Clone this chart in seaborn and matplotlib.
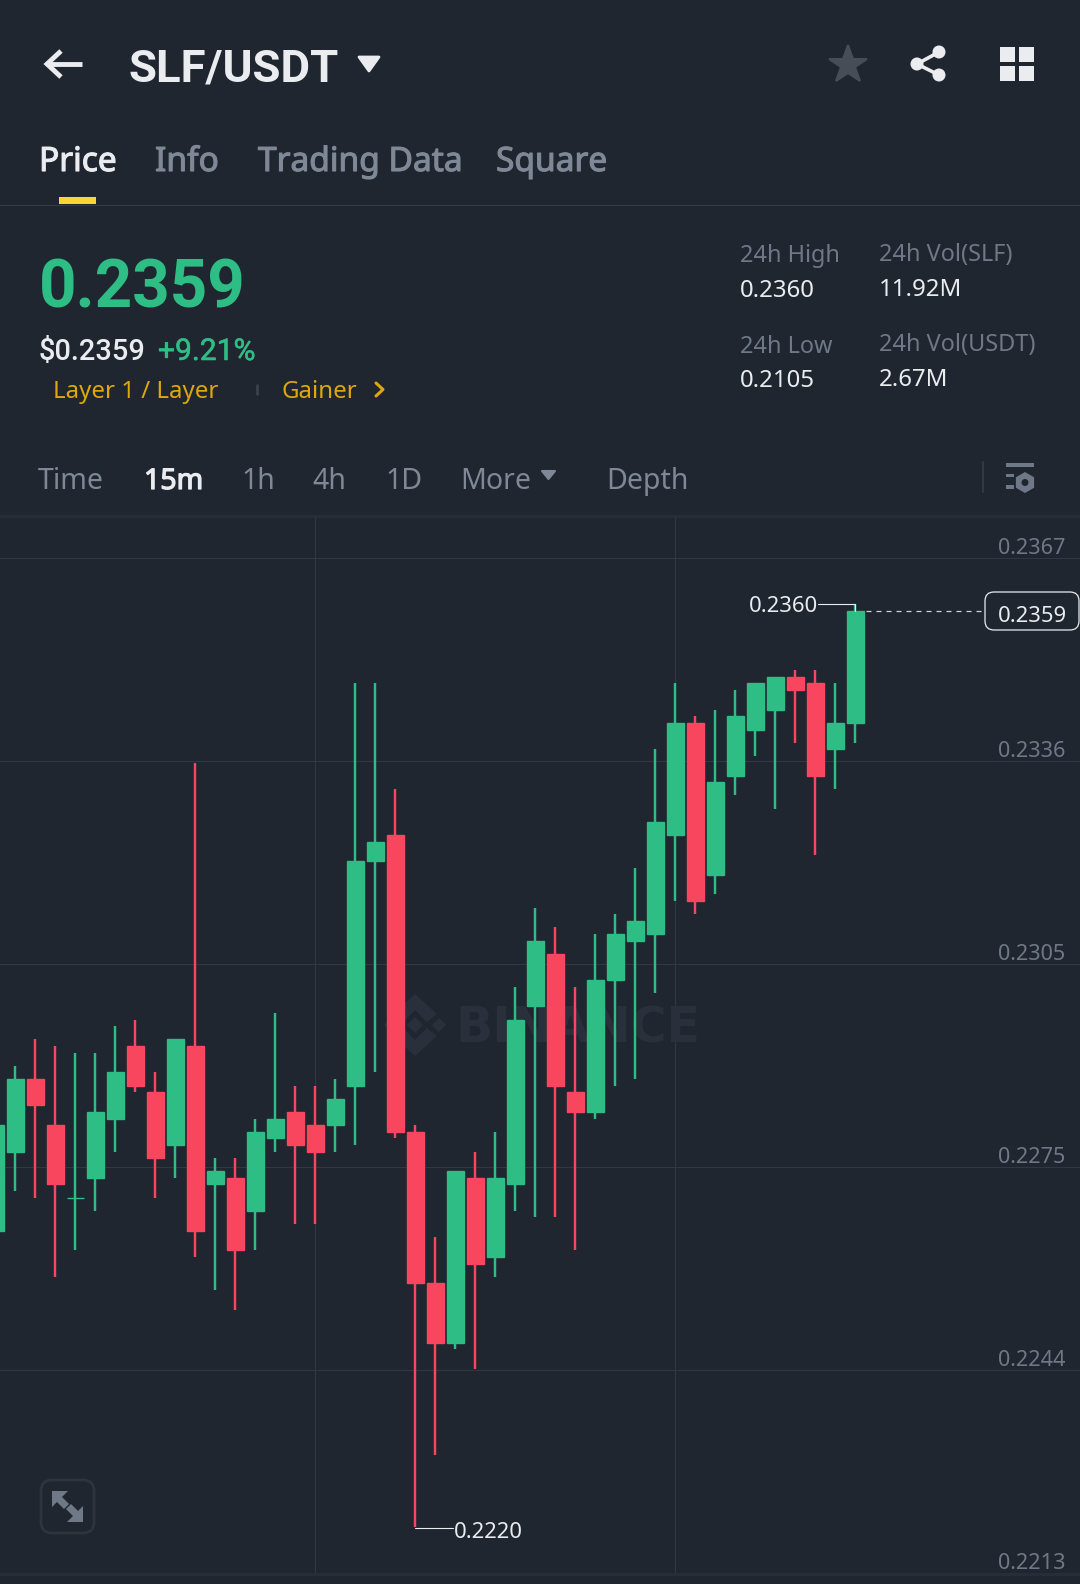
import matplotlib
matplotlib.use("Agg")
import matplotlib.pyplot as plt
from matplotlib.patches import FancyBboxPatch, Polygon, RegularPolygon, Circle, Rectangle
from matplotlib.patheffects import withStroke
from matplotlib.transforms import ScaledTranslation
import pandas as pd
import seaborn as sns

BG = "#1f2630"
GRID = "#313743"
GREEN = "#2ebd85"
RED = "#f9465f"
WHITE = "#eaecef"
GRAY = "#7f8896"
DIM = "#6f7886"
AMBER = "#dda80b"

opens = [0.2265, 0.2277, 0.2288, 0.2281, 0.2270, 0.2273, 0.2282, 0.2293, 0.2286, 0.2278, 0.2293,
         0.2272, 0.2273, 0.2268, 0.2279, 0.2283, 0.2281, 0.2281, 0.2287, 0.2321, 0.2325, 0.2280,
         0.2257, 0.2248, 0.2273, 0.2261, 0.2272, 0.2299, 0.2307, 0.2286, 0.2283, 0.2303, 0.2309,
         0.2310, 0.2325, 0.2342, 0.2319, 0.2334, 0.2341, 0.2344, 0.2349, 0.2348, 0.2338, 0.2342]
closes = [0.2281, 0.2288, 0.2284, 0.2272, 0.2270, 0.2283, 0.2289, 0.2287, 0.2276, 0.2294, 0.2265,
          0.2274, 0.2262, 0.2280, 0.2282, 0.2278, 0.2277, 0.2285, 0.2321, 0.2324, 0.2280, 0.2257,
          0.2248, 0.2274, 0.2260, 0.2273, 0.2297, 0.2309, 0.2287, 0.2283, 0.2303, 0.2310, 0.2312,
          0.2327, 0.2342, 0.2315, 0.2333, 0.2343, 0.2348, 0.2349, 0.2347, 0.2334, 0.2342, 0.2359]
highs = [0.2283, 0.2290, 0.2294, 0.2293, 0.2292, 0.2292, 0.2296, 0.2297, 0.2289, 0.2294, 0.2336,
         0.2276, 0.2276, 0.2282, 0.2298, 0.2287, 0.2287, 0.2288, 0.2348, 0.2348, 0.2332, 0.2281,
         0.2264, 0.2274, 0.2277, 0.2280, 0.2302, 0.2314, 0.2311, 0.2302, 0.2310, 0.2313, 0.2320,
         0.2338, 0.2348, 0.2343, 0.2344, 0.2347, 0.2348, 0.2349, 0.2350, 0.2350, 0.2348, 0.2360]
lows = [0.2263, 0.2271, 0.2270, 0.2258, 0.2262, 0.2268, 0.2277, 0.2286, 0.2270, 0.2273, 0.2261,
        0.2256, 0.2253, 0.2262, 0.2277, 0.2266, 0.2266, 0.2277, 0.2278, 0.2289, 0.2279, 0.2220,
        0.2231, 0.2247, 0.2244, 0.2258, 0.2268, 0.2267, 0.2267, 0.2262, 0.2282, 0.2287, 0.2288,
        0.2301, 0.2315, 0.2313, 0.2316, 0.2331, 0.2337, 0.2329, 0.2339, 0.2322, 0.2332, 0.2339]
price_ticks = [0.2367, 0.23362, 0.23054, 0.22746, 0.22438, 0.2213]
price_labels = ["0.2367", "0.2336", "0.2305", "0.2275", "0.2244", "0.2213"]
grid_candles = [16, 34]
tabs = [("Price", 39, WHITE), ("Info", 155, GRAY), ("Trading Data", 258, GRAY), ("Square", 496, GRAY)]
intervals = [("Time", 38, GRAY, 0), ("15m", 144, WHITE, 0.9), ("1h", 241, GRAY, 0),
             ("4h", 312, GRAY, 0), ("1D", 385, GRAY, 0), ("More", 460, GRAY, 0),
             ("Depth", 606, GRAY, 0)]
stats = [("24h High", "0.2360", 740, 262, 297), ("24h Vol(SLF)", "11.92M", 879, 261, 295.5),
         ("24h Low", "0.2105", 740, 353, 387), ("24h Vol(USDT)", "2.67M", 879, 351, 385.7)]

W, H = 1080, 1584
sns.set_theme(style="darkgrid", rc={
    "figure.facecolor": BG, "axes.facecolor": BG, "grid.color": GRID, "grid.linewidth": 0.8,
    "axes.edgecolor": GRID, "savefig.facecolor": BG,
})
plt.rcParams["font.family"] = ["Noto Sans", "DejaVu Sans"]

fig = plt.figure(figsize=(W / 100, H / 100), dpi=100)
TOP, BOT = 516.0, 1573.5
ax = fig.add_axes([0, (H - BOT) / H, 1, (BOT - TOP) / H])
ui = fig.add_axes([0, 0, 1, 1], zorder=5)
ui.set_xlim(0, W)
ui.set_ylim(H, 0)
ui.axis("off")
ui.patch.set_alpha(0)

df = pd.DataFrame({"i": range(len(opens)), "o": opens, "h": highs, "l": lows, "c": closes})
df["rising"] = [c > o or k == 4 for k, (c, o) in enumerate(zip(df.c, df.o))]
df["bottom"] = df[["o", "c"]].min(axis=1)
df["body"] = (df.o - df.c).abs()
for rising, colour in [(True, GREEN), (False, RED)]:
    sub = df[df.rising == rising]
    ax.vlines(sub.i, sub.l, sub.h, color=colour, lw=1.75, zorder=0.9)
    sns.barplot(data=sub, x="i", y="body", bottom=sub.bottom.values, native_scale=True, width=0.83,
                color=colour, saturation=1, errorbar=None, ax=ax, linewidth=1.0, edgecolor=colour, zorder=1)

ax.set_xlim((0 + 4.67) / 20, (W + 4.67) / 20)
y2p = lambda y: (2360 - (y - 604.3) / 6.596) / 1e4
ax.set_ylim(y2p(BOT), y2p(TOP))
ax.set_xticks(grid_candles)
ax.set_yticks(price_ticks)
ax.set_yticklabels(price_labels)
ax.set_xlabel("")
ax.set_ylabel("")
ax.yaxis.tick_right()
ax.tick_params(axis="x", labelbottom=False, length=0)
ax.tick_params(axis="y", length=0, pad=-10.5, labelsize=15.6, labelcolor=DIM, labelright=True)
shift = ScaledTranslation(0, -0.4 / 72, fig.dpi_scale_trans)
for lab in ax.get_yticklabels():
    lab.set_ha("right")
    lab.set_va("bottom")
    lab.set_transform(lab.get_transform() + shift)
ax.set_axisbelow(True)
ax.grid(True, color=GRID, lw=0.8)
for side, sp in ax.spines.items():
    sp.set_visible(side in ("top", "bottom"))
    sp.set_linewidth(2)
    sp.set_color("#282e39")


def T(x, y, s, px, color=WHITE, weight="normal", ha="left", family=None, target=None, stroke=0):
    t = (target or ui).text(x, y, s, fontsize=px * 0.72, color=color, fontweight=weight, ha=ha, va="baseline",
                            family=family or plt.rcParams["font.family"],
                            **({"transform": ui.transData} if target is not None else {}))
    if stroke:
        t.set_path_effects([withStroke(linewidth=stroke, foreground=color)])
    return t


# watermark, under the candles
WM = "#2a303b"
T(456, 1042.5, "BINANCE", 49, WM, "bold", family="DejaVu Sans", target=ax).set_zorder(0.6)
for pts in ([(415, 994), (437, 1014), (427, 1022), (415, 1010), (403, 1022), (393, 1014)],
            [(415, 1056), (437, 1036), (427, 1028), (415, 1040), (403, 1028), (393, 1036)],
            [(415, 1017), (423, 1025), (415, 1033), (407, 1025)],
            [(439, 1018), (446, 1025), (439, 1032), (432, 1025)],
            [(391, 1018), (398, 1025), (391, 1032), (384, 1025)]):
    ax.add_patch(Polygon(pts, closed=True, fc=WM, ec="none", transform=ui.transData, zorder=0.6, clip_on=False))

# header
ui.plot([82, 48], [64, 64], color=WHITE, lw=3.5, solid_capstyle="butt")
ui.plot([61, 47, 61], [51, 64, 77], color=WHITE, lw=3.5, solid_joinstyle="miter", solid_capstyle="butt")
T(128, 81, "SLF/USDT", 45.5, WHITE, "bold", family="Roboto")
ui.add_patch(Polygon([(359, 57), (379, 57), (369, 71)], closed=True, fc=WHITE, ec=WHITE, lw=2, joinstyle="round"))
ui.plot([848], [65], marker="*", ms=29, color="#474d57", mec="#474d57", mew=1.5)
ui.plot([939, 917, 939], [52, 64, 75], color=WHITE, lw=2.6)
for cx, cy in [(939, 52), (917, 64), (939, 75)]:
    ui.add_patch(Circle((cx, cy), 6.5, fc=WHITE, ec="none"))
for x0 in (1000, 1019):
    for y0 in (47, 66):
        ui.add_patch(Rectangle((x0, y0), 15, 15, fc=WHITE, ec="none"))

for s, x, col in tabs:
    T(x, 171, s, 33.5, col, family="Noto Sans", stroke=0.8)
ui.add_patch(Rectangle((59, 197), 37, 7, fc="#fcd535", ec="none"))
ui.plot([0, W], [204.5, 204.5], color="#363c47", lw=0.8)

T(39, 307, "0.2359", 65.5, GREEN, "bold", family="Roboto")
T(38.5, 360, "$0.2359", 29, WHITE, "medium", family="Roboto")
T(158, 360, "+9.21%", 30, GREEN, "normal", family="Roboto", stroke=0.4)
T(53, 397.5, "Layer 1 / Layer", 24, AMBER)
T(281.5, 397.5, "Gainer", 24, AMBER)
ui.plot([257, 257], [385, 394], color="#3a404b", lw=2)
ui.plot([376, 383, 376], [383, 389.5, 396], color=AMBER, lw=2.2)

for label, value, x, y1, y2 in stats:
    T(x, y1, label, 23.5, DIM)
    T(x, y2, value, 24, WHITE)

for s, x, col, stroke in intervals:
    T(x, 489, s, 28.5, col, family="Noto Sans", stroke=stroke)
ui.add_patch(Polygon([(542, 471), (555, 471), (548.5, 479)], closed=True, fc=GRAY, ec=GRAY, lw=1.5, joinstyle="round"))
ui.plot([983, 983], [462, 492], color="#363c47", lw=1.3)
ui.add_patch(Rectangle((1006, 463), 28, 3.5, fc=DIM, ec="none"))
ui.add_patch(Rectangle((1006, 473.5), 8, 3.5, fc=DIM, ec="none"))
ui.add_patch(Rectangle((1006, 485), 8, 3.5, fc=DIM, ec="none"))
ui.add_patch(RegularPolygon((1025, 482.5), 6, radius=10.5, fc=DIM, ec="none"))
ui.add_patch(Circle((1025, 482.5), 3.5, fc=BG, ec="none"))

# chart annotations
T(749, 612.5, "0.2360", 22, WHITE)
ui.plot([818, 855.3, 855.3], [604.3, 604.3, 611], color=WHITE, lw=0.8)
T(453.5, 1537.5, "0.2220", 22, WHITE)
ui.plot([415.3, 453], [1527.7, 1527.7], color=WHITE, lw=0.8)
ui.plot([866, 985], [611, 611], color="#cfd3d8", lw=0.9, dashes=(4, 4))
ui.add_patch(FancyBboxPatch((995, 602), 74, 18, boxstyle="round,pad=10,rounding_size=9", fc=BG, ec=WHITE, lw=0.9))
T(1032, 622, "0.2359", 22, WHITE, ha="center")

# expand button
ui.add_patch(FancyBboxPatch((51, 1490), 33, 33, boxstyle="round,pad=10,rounding_size=11", fc=BG, ec="#2e343f", lw=2))
ui.add_patch(Polygon([(52, 1491), (68, 1491), (62, 1497), (69, 1504), (64, 1509), (57, 1502), (52, 1507)], closed=True, fc=DIM, ec="none"))
ui.add_patch(Polygon([(83, 1522), (67, 1522), (73, 1516), (66, 1509), (71, 1504), (78, 1511), (83, 1506)], closed=True, fc=DIM, ec="none"))

fig.savefig("out.png", dpi=100, facecolor=BG)
